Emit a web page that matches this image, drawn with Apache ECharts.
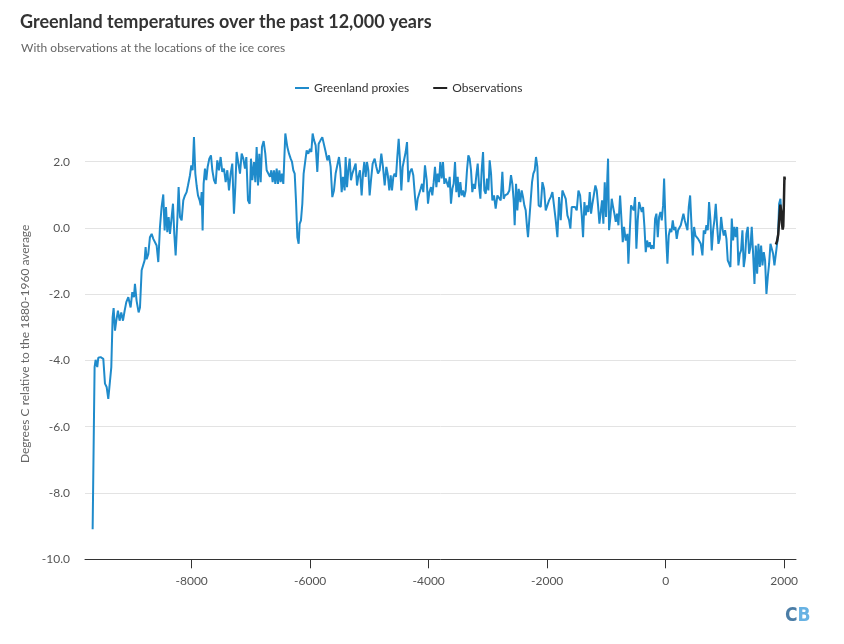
<!DOCTYPE html>
<html>
<head>
<meta charset="utf-8">
<script src="https://cdn.jsdelivr.net/npm/echarts@6/dist/echarts.min.js"></script>
<style>
html,body{margin:0;padding:0;background:#fff;}
#chart{width:844px;height:644px;}
</style>
</head>
<body>
<div id="chart"></div>
<script>
// ---- data: [year, degrees C relative to 1880-1960] ----
const proxiesEarly = [[-9671,-9.09],[-9649,-5.8],[-9638,-4.2],[-9621,-3.98],[-9593,-4.2],[-9576,-3.92],[-9536,-3.9],[-9508,-3.9],[-9491,-3.95],[-9463,-4.7],[-9435,-4.8],[-9407,-5.16],[-9384,-5.1],[-9356,-4.2],[-9334,-2.7],[-9317,-2.42],[-9294,-3.1],[-9272,-2.8],[-9244,-2.5],[-9216,-2.8],[-9188,-2.55],[-9159,-2.8],[-9131,-2.5],[-9103,-2.24],[-9069,-2.09],[-9030,-2.4],[-9002,-1.94],[-8974,-2.09],[-8957,-1.69],[-8929,-2.2],[-8895,-2.55],[-8872,-2.4],[-8844,-1.28],[-8816,-1.24],[-8794,-0.98],[-8777,-0.58],[-8760,-0.94],[-8732,-0.79],[-8704,-0.28],[-8675,-0.18],[-8647,-0.33],[-8625,-0.28],[-8591,-0.53],[-8563,-1.03],[-8535,0.02],[-8507,0.63],[-8479,1.01],[-8456,-0.08],[-8433,0.63],[-8411,-0.13],[-8388,0.33],[-8366,-0.18],[-8343,0.23],[-8315,0.73],[-8293,-0.18],[-8270,-0.83],[-8242,0.23],[-8220,1.23],[-8197,0.33],[-8169,0.23],[-8141,0.83],[-8113,0.98],[-8085,1.08],[-8062,1.28],[-8028,1.59],[-8006,1.89],[-7983,1.74],[-7961,2.74],[-7938,1.64],[-7916,1.28],[-7893,0.98],[-7865,0.83],[-7848,0.68],[-7831,1.08],[-7815,-0.08],[-7798,1.33],[-7775,1.79],[-7753,1.44],[-7730,1.84],[-7702,2.09],[-7674,2.19],[-7651,1.74],[-7623,1.44],[-7595,1.33],[-7567,2.04],[-7539,1.74],[-7511,2.14],[-7483,1.69],[-7454,1.79],[-7426,1.38],[-7398,1.74],[-7370,1.13],[-7342,1.64],[-7314,1.94],[-7286,0.43],[-7263,1.23],[-7241,2.29],[-7212,2.34],[-7184,1.64],[-7156,2.24],[-7128,2.09],[-7100,1.79],[-7077,2.14],[-7049,0.83],[-7021,0.73],[-6999,2.09],[-6976,1.44],[-6948,1.99],[-6925,1.38],[-6903,2.44],[-6880,1.28],[-6858,2.24],[-6835,1.38],[-6813,2.44],[-6785,2.62],[-6757,2.24],[-6734,1.74],[-6706,1.69],[-6678,1.54],[-6655,1.74],[-6633,1.38],[-6610,1.74],[-6588,1.33],[-6565,1.79],[-6543,1.33],[-6520,1.74],[-6498,1.38],[-6475,1.64],[-6453,1.33],[-6419,2.85],[-6385,2.44],[-6357,2.24],[-6329,2.09],[-6306,1.99],[-6284,1.74],[-6261,1.64],[-6239,0.83],[-6216,-0.28],[-6194,-0.48],[-6177,0.12],[-6155,0.23],[-6132,0.73],[-6110,1.64],[-6081,2.04],[-6059,2.34],[-6031,2.24],[-6003,2.39],[-5980,2.29],[-5958,2.85],[-5935,2.65],[-5907,2.49],[-5879,1.69],[-5856,2.54],[-5823,2.65]];

const proxiesMid = [[-5795,2.74],[-5767,2.79],[-5738,2.29],[-5710,2.04],[-5682,2.19],[-5654,1.84],[-5626,0.93],[-5598,1.13],[-5570,1.64],[-5541,1.69],[-5513,2.14],[-5491,1.79],[-5468,1.08],[-5446,1.54],[-5418,1.13],[-5401,2.14],[-5378,1.23],[-5356,1.74],[-5333,2.09],[-5311,1.44],[-5288,1.64],[-5260,1.79],[-5232,1.94],[-5209,1.28],[-5187,1.54],[-5159,1.74],[-5131,0.98],[-5108,1.64],[-5086,1.99],[-5063,1.54],[-5041,1.99],[-5018,1.74],[-4996,0.98],[-4973,1.44],[-4945,1.94],[-4911,2.09],[-4883,1.84],[-4855,1.64],[-4827,1.74],[-4799,2.24],[-4771,1.84],[-4742,1.28],[-4714,1.84],[-4692,1.64],[-4664,1.13],[-4641,1.59],[-4619,1.13],[-4596,1.54],[-4574,1.64],[-4551,1.54],[-4529,2.14],[-4506,2.69],[-4484,2.04],[-4461,1.13],[-4439,1.84],[-4416,1.89],[-4388,2.29],[-4365,2.59],[-4343,1.38],[-4315,1.69],[-4287,1.79],[-4259,1.59],[-4230,0.93],[-4208,0.53],[-4185,0.88],[-4163,0.83],[-4135,1.18],[-4112,1.33],[-4090,1.08],[-4062,1.89],[-4033,1.44],[-4011,0.73],[-3988,1.08],[-3960,1.23],[-3938,0.98],[-3915,1.38],[-3893,1.84],[-3870,1.23],[-3848,1.64],[-3825,1.38],[-3803,1.99],[-3780,1.49],[-3758,1.99],[-3735,1.33],[-3713,1.49],[-3690,1.44],[-3668,1.23],[-3645,1.54],[-3623,0.73],[-3600,1.18],[-3578,1.33],[-3555,1.99],[-3533,1.08],[-3510,1.54],[-3488,0.93],[-3465,1.38],[-3443,0.98],[-3420,1.13],[-3398,0.93],[-3375,1.13],[-3353,1.74],[-3330,2.19],[-3308,2.09],[-3285,1.74],[-3263,1.08],[-3240,1.33],[-3218,1.18],[-3195,1.59],[-3172,1.94],[-3150,1.28],[-3127,0.88],[-3105,1.74],[-3082,2.29],[-3060,1.13],[-3037,1.03],[-3015,1.49],[-2992,1.13],[-2970,2.04],[-2947,1.64],[-2925,0.83],[-2897,0.98],[-2869,0.58],[-2840,0.98],[-2812,0.93],[-2784,0.83],[-2756,1.69],[-2734,0.88],[-2711,0.98],[-2689,0.93],[-2666,1.03],[-2638,1.13],[-2610,1.59],[-2587,1.33],[-2565,0.83],[-2548,0.08],[-2525,1.33],[-2503,0.53],[-2480,1.18],[-2452,0.78],[-2430,1.13],[-2407,0.93],[-2385,0.68],[-2362,0.53],[-2340,0.03],[-2323,-0.28],[-2300,0.28],[-2278,0.33],[-2255,1.38],[-2233,1.64],[-2210,1.74],[-2188,2.14],[-2165,1.84],[-2143,0.68]];

const proxiesLate = [[-2108,0.63],[-2080,1.38],[-2052,1.18],[-2024,0.53],[-1996,0.58],[-1968,0.83],[-1940,0.93],[-1911,1.08],[-1883,1.08],[-1855,0.23],[-1827,-0.28],[-1799,0.93],[-1771,0.23],[-1743,1.13],[-1714,1.08],[-1686,0.88],[-1658,0.38],[-1630,0.23],[-1608,-0.02],[-1585,0.63],[-1557,0.58],[-1529,0.63],[-1501,0.53],[-1472,1.13],[-1444,0.98],[-1416,0.38],[-1394,-0.28],[-1371,0.78],[-1349,0.38],[-1326,0.68],[-1304,0.48],[-1281,1.08],[-1259,0.43],[-1236,0.73],[-1208,0.78],[-1186,1.28],[-1163,1.13],[-1141,0.68],[-1118,0.13],[-1096,0.08],[-1073,0.83],[-1051,0.13],[-1028,1.38],[-1006,0.33],[-983,1.59],[-972,2.09],[-955,-0.07],[-932,0.33],[-910,0.88],[-887,0.63],[-865,0.43],[-842,0.18],[-820,0.43],[-797,0.08],[-769,0.98],[-747,0.98],[-724,-0.43],[-702,0.03],[-674,-0.38],[-645,-0.18],[-629,-1.08],[-606,-0.13],[-584,0.68],[-561,0.73],[-539,0.53],[-516,0.93],[-494,-0.63],[-471,0.23],[-448,0.78],[-426,0.63],[-403,0.48],[-381,0.63],[-358,0.03],[-336,-0.73],[-313,-0.38],[-291,-0.58],[-268,-0.43],[-246,-0.63],[-223,-0.53],[-201,-0.63],[-178,0.28],[-156,0.43],[-133,-0.28],[-111,0.33],[-88,0.48],[-66,0.23],[-43,0.68],[-26,1.49],[-4,0.23],[19,-0.68],[30,-1.08],[52,-0.23],[75,-0.02],[97,-0.13],[120,0.23],[142,-0.07],[165,0.03],[187,-0.33],[210,-0.07],[232,-0.07],[255,0.08],[277,0.13],[300,0.43],[322,0.23],[345,0.23],[368,-0.07],[390,0.63],[413,0.98],[435,0.13],[458,-0.83],[480,0.03],[503,-0.23],[525,-0.18],[548,-0.33],[570,-0.38],[593,-0.48],[621,-0.83],[643,-0.07],[666,-0.18],[688,0.08],[711,-0.07],[733,0.78],[756,0.23],[778,-0.68],[801,-0.07],[823,0.23],[846,0.73],[868,0.08],[891,-0.48],[913,-0.33],[936,0.33],[958,-0.02],[981,-0.23],[1003,-0.07],[1026,-0.33],[1048,-0.98],[1071,-1.08],[1093,-1.18],[1116,0.28],[1138,-0.38],[1161,0.03],[1183,-0.28],[1206,0.03],[1228,-1.13],[1251,-0.78],[1273,-0.68],[1296,-0.07],[1318,-1.18],[1341,-0.88],[1363,-0.18],[1386,0.03],[1408,-0.78],[1431,-0.58],[1453,0.03],[1476,-0.78],[1499,-1.69],[1521,-0.53],[1544,-1.38],[1566,-0.48],[1589,-1.18],[1611,-0.53],[1634,-1.13],[1656,-0.73],[1678,-0.98],[1701,-1.99],[1724,-1.48],[1746,-1.08],[1769,-0.48],[1791,-0.43],[1814,-0.78],[1836,-1.13],[1859,-1.18],[1881,-0.48],[1898,-0.18],[1915,0.73],[1937,0.88],[1954,0.33]];

const observations = [[1860,-0.5],[1880,-0.4],[1900,-0.2],[1920,0.35],[1935,0.7],[1950,0.5],[1962,0.15],[1975,-0.05],[1985,0.05],[1995,0.7],[2005,1.55],[2012,1.45]];

const xTickValues = [-8000, -6000, -4000, -2000, 0, 2000];
const seriesNames = ['Greenland proxies', 'Observations'];

const proxies = proxiesEarly.concat(proxiesMid, proxiesLate);

const chart = echarts.init(document.getElementById('chart'), null, {renderer: 'canvas'});
const font = 'Lato, "Noto Sans", sans-serif';
chart.setOption({
  animation: false,
  backgroundColor: '#ffffff',
  textStyle: {fontFamily: font},
  title: [
    {text: 'Greenland temperatures over the past 12,000 years', left: 15, top: 8,
     textStyle: {fontFamily: font, fontSize: 18, fontWeight: 'bold', color: '#333'}},
    {text: 'With observations at the locations of the ice cores', left: 16, top: 37,
     textStyle: {fontFamily: font, fontSize: 12, fontWeight: 'normal', color: '#666'}}
  ],
  legend: {
    left: 290, top: 77, icon: 'rect', itemWidth: 14, itemHeight: 2, itemGap: 24,
    textStyle: {fontFamily: font, fontSize: 12, color: '#333'},
    data: seriesNames
  },
  grid: {left: 85, right: 48, top: 128.5, bottom: 84.7, containLabel: false},
  xAxis: {
    type: 'value', min: -9800, max: 2200,
    axisLine: {show: true, onZero: false, lineStyle: {color: '#333', width: 1}},
    axisTick: {show: true, length: 9, lineStyle: {color: '#333'}, customValues: xTickValues},
    axisLabel: {customValues: xTickValues, formatter: v => String(v), color: '#555', fontSize: 12, margin: 16, fontFamily: font},
    splitLine: {show: false}
  },
  yAxis: {
    type: 'value', min: -10, max: 3, interval: 2,
    name: 'Degrees C relative to the 1880-1960 average',
    nameLocation: 'middle', nameGap: 52,
    nameTextStyle: {color: '#666', fontSize: 12, fontFamily: font},
    axisLine: {show: false}, axisTick: {show: false},
    axisLabel: {formatter: v => v.toFixed(1), showMaxLabel: false, color: '#555', fontSize: 12, margin: 15, fontFamily: font},
    splitLine: {show: true, showMaxLine: false, lineStyle: {color: '#e3e3e3', width: 1}}
  },
  series: [
    {name: seriesNames[0], type: 'line', data: proxies, showSymbol: false, symbol: 'none',
     lineStyle: {color: '#1f8bcb', width: 2}, itemStyle: {color: '#1f8bcb'}, z: 2},
    {name: seriesNames[1], type: 'line', data: observations, showSymbol: false, symbol: 'none',
     lineStyle: {color: '#222', width: 2.5}, itemStyle: {color: '#222'}, z: 3}
  ],
  graphic: [{
    type: 'text', left: 785, top: 607,
    style: {
      text: '{c|C}{b|B}',
      rich: {
        c: {fill: '#4b7da6', fontSize: 19, fontWeight: 'bold', fontFamily: '"Liberation Sans Narrow","DejaVu Sans Condensed","Roboto",sans-serif'},
        b: {fill: '#67b2e3', fontSize: 19, fontWeight: 'bold', fontFamily: '"Liberation Sans Narrow","DejaVu Sans Condensed","Roboto",sans-serif'}
      }
    }
  }]
});
</script>
</body>
</html>
